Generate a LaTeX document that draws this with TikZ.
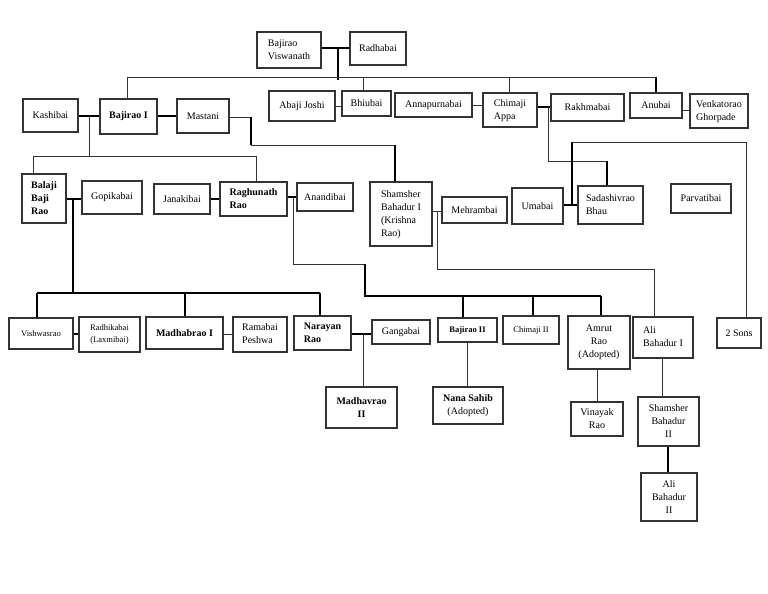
\documentclass[tikz,border=0pt]{standalone}
\usepackage{fontspec}
\setmainfont{Liberation Serif}
\begin{document}
\begin{tikzpicture}[x=1pt,y=-1pt,
  box/.style={draw=black!80,line width=1.1pt,inner sep=1pt,font=\fontsize{10}{13}\selectfont,align=center},
  sm/.style={font=\fontsize{8.5}{12}\selectfont},
  thn/.style={draw=black!80,line width=1pt},
  thk/.style={draw=black,line width=2.3pt}]
\useasboundingbox[fill=white] (0,0) rectangle (768,594);
\newcommand\bx[6]{\node[box,minimum width={(#4-#2)*1pt},minimum height={(#5-#3)*1pt}] (#1) at ({(#2+#4)/2},{(#3+#5)/2}) {#6};}
\newcommand\bxs[6]{\node[box,sm,minimum width={(#4-#2)*1pt},minimum height={(#5-#3)*1pt}] (#1) at ({(#2+#4)/2},{(#3+#5)/2}) {#6};}
\bx{bv}{257}{32}{321}{68}{\begin{tabular}{@{}l@{}}Bajirao\\Viswanath\end{tabular}}
\bx{rb}{350}{32}{406}{65}{Radhabai}
\bx{ks}{23}{99}{78}{132}{Kashibai}
\bx{b1}{100}{99}{157}{134}{\textbf{Bajirao I}}
\bx{ms}{177}{99}{229}{133}{Mastani}
\bx{aj}{269}{91}{335}{121}{Abaji Joshi}
\bx{bh}{342}{91}{391}{116}{Bhiubai}
\bx{ap}{395}{93}{472}{117}{Annapurnabai}
\bx{ca}{483}{93}{537}{127}{\begin{tabular}{@{}l@{}}Chimaji\\Appa\end{tabular}}
\bx{rk}{551}{94}{624}{121}{Rakhmabai}
\bx{an}{630}{93}{682}{118}{Anubai}
\bx{vg}{690}{94}{748}{128}{\begin{tabular}{@{}l@{}}Venkatorao\\Ghorpade\end{tabular}}
\bx{bb}{22}{174}{66}{223}{\begin{tabular}{@{}l@{}}\textbf{Balaji}\\\textbf{Baji}\\\textbf{Rao}\end{tabular}}
\bx{gp}{82}{181}{142}{214}{Gopikabai}
\bx{jk}{154}{184}{210}{214}{Janakibai}
\bx{rr}{220}{182}{287}{216}{\begin{tabular}{@{}l@{}}\textbf{Raghunath}\\\textbf{Rao}\end{tabular}}
\bx{ad}{297}{183}{353}{211}{Anandibai}
\bx{sb}{370}{182}{432}{246}{\begin{tabular}{@{}l@{}}Shamsher\\Bahadur I\\(Krishna\\Rao)\end{tabular}}
\bx{mb}{442}{197}{507}{223}{Mehrambai}
\bx{um}{512}{188}{563}{224}{Umabai}
\bx{sd}{578}{186}{643}{224}{\begin{tabular}{@{}l@{}}Sadashivrao\\Bhau\end{tabular}}
\bx{pv}{671}{184}{731}{213}{Parvatibai}
\bxs{vi}{9}{318}{73}{349}{Vishwasrao}
\bxs{rd}{79}{317}{140}{352}{Radhikabai\\(Laxmibai)}
\bx{mI}{146}{317}{223}{349}{\textbf{Madhabrao I}}
\bx{rp}{233}{317}{287}{352}{\begin{tabular}{@{}l@{}}Ramabai\\Peshwa\end{tabular}}
\bx{nr}{294}{316}{351}{350}{\begin{tabular}{@{}l@{}}\textbf{Narayan}\\\textbf{Rao}\end{tabular}}
\bx{gb}{372}{320}{430}{344}{Gangabai}
\bx{m2}{326}{387}{397}{428}{\textbf{Madhavrao}\\\textbf{II}}
\bxs{b2}{438}{318}{497}{342}{\textbf{Bajirao II}}
\bxs{c2}{503}{316}{559}{344}{Chimaji II}
\bx{ar}{568}{316}{630}{369}{Amrut\\Rao\\(Adopted)}
\bx{a1}{633}{317}{693}{358}{\begin{tabular}{@{}l@{}}Ali\\Bahadur I\end{tabular}}
\bx{ts}{717}{318}{761}{348}{2 Sons}
\bx{ns}{433}{387}{503}{424}{\textbf{Nana Sahib}\\(Adopted)}
\bx{vr}{571}{402}{623}{436}{Vinayak\\Rao}
\bx{s2}{638}{397}{699}{446}{Shamsher\\Bahadur\\II}
\bx{a2}{641}{473}{697}{521}{Ali\\Bahadur\\II}
% top generation
\draw[thk] (bv.east|-0,48) -- (rb.west|-0,48);
\draw[thk] (338,48) -- (338,80);
\draw[thn] (127,77) -- (656,77);
\draw[thn] (127,77) -- (b1.north-|127,0);
\draw[thn] (363,77) -- (bh.north-|363,0);
\draw[thn] (509,77) -- (ca.north-|509,0);
\draw[thk] (656,77) -- (an.north-|656,0);
% row 2
\draw[thk] (ks.east|-0,116) -- (b1.west|-0,116);
\draw[thk] (b1.east|-0,116) -- (ms.west|-0,116);
\draw[thn] (89,116) -- (89,156);
\draw[thn] (33,156) -- (256,156);
\draw[thn] (33,156) -- (bb.north-|33,0);
\draw[thn] (256,156) -- (rr.north-|256,0);
\draw[thn] (ms.east|-0,117) -- (251,117);
\draw[thk] (251,117) -- (251,145);
\draw[thn] (251,145) -- (395,145);
\draw[thk] (395,145) -- (sb.north-|395,0);
\draw[thn] (aj.east|-0,106) -- (bh.west|-0,106);
\draw[thn] (ap.east|-0,105) -- (ca.west|-0,105);
\draw[thk] (ca.east|-0,107) -- (rk.west|-0,107);
\draw[thn] (548,107) -- (548,161) -- (607,161);
\draw[thk] (607,161) -- (sd.north-|607,0);
\draw[thn] (an.east|-0,110) -- (vg.west|-0,110);
% row 3
\draw[thk] (um.east|-0,205) -- (sd.west|-0,205);
\draw[thk] (572,205) -- (572,142);
\draw[thn] (572,142) -- (746,142) -- (ts.north-|746,0);
\draw[thk] (bb.east|-0,199) -- (gp.west|-0,199);
\draw[thk] (73,199) -- (73,293);
\draw[thk] (37,293) -- (320,293);
\draw[thk] (37,293) -- (vi.north-|37,0);
\draw[thk] (185,293) -- (mI.north-|185,0);
\draw[thk] (320,293) -- (nr.north-|320,0);
\draw[thk] (jk.east|-0,199) -- (rr.west|-0,199);
\draw[thk] (rr.east|-0,197) -- (ad.west|-0,197);
\draw[thn] (293,197) -- (293,264) -- (365,264);
\draw[thk] (365,264) -- (365,296) -- (601,296);
\draw[thk] (463,296) -- (b2.north-|463,0);
\draw[thk] (533,296) -- (c2.north-|533,0);
\draw[thk] (601,296) -- (ar.north-|601,0);
\draw[thn] (sb.east|-0,211) -- (mb.west|-0,211);
\draw[thn] (437,211) -- (437,269) -- (654,269) -- (a1.north-|654,0);
% row 4
\draw[thk] (vi.east|-0,334) -- (rd.west|-0,334);
\draw[thn] (mI.east|-0,334) -- (rp.west|-0,334);
\draw[thk] (nr.east|-0,334) -- (gb.west|-0,334);
\draw[thn] (363,334) -- (m2.north-|363,0);
\draw[thn] (b2.south-|467,0) -- (ns.north-|467,0);
\draw[thn] (ar.south-|597,0) -- (vr.north-|597,0);
\draw[thn] (a1.south-|662,0) -- (s2.north-|662,0);
\draw[thk] (s2.south-|668,0) -- (a2.north-|668,0);
\end{tikzpicture}
\end{document}
